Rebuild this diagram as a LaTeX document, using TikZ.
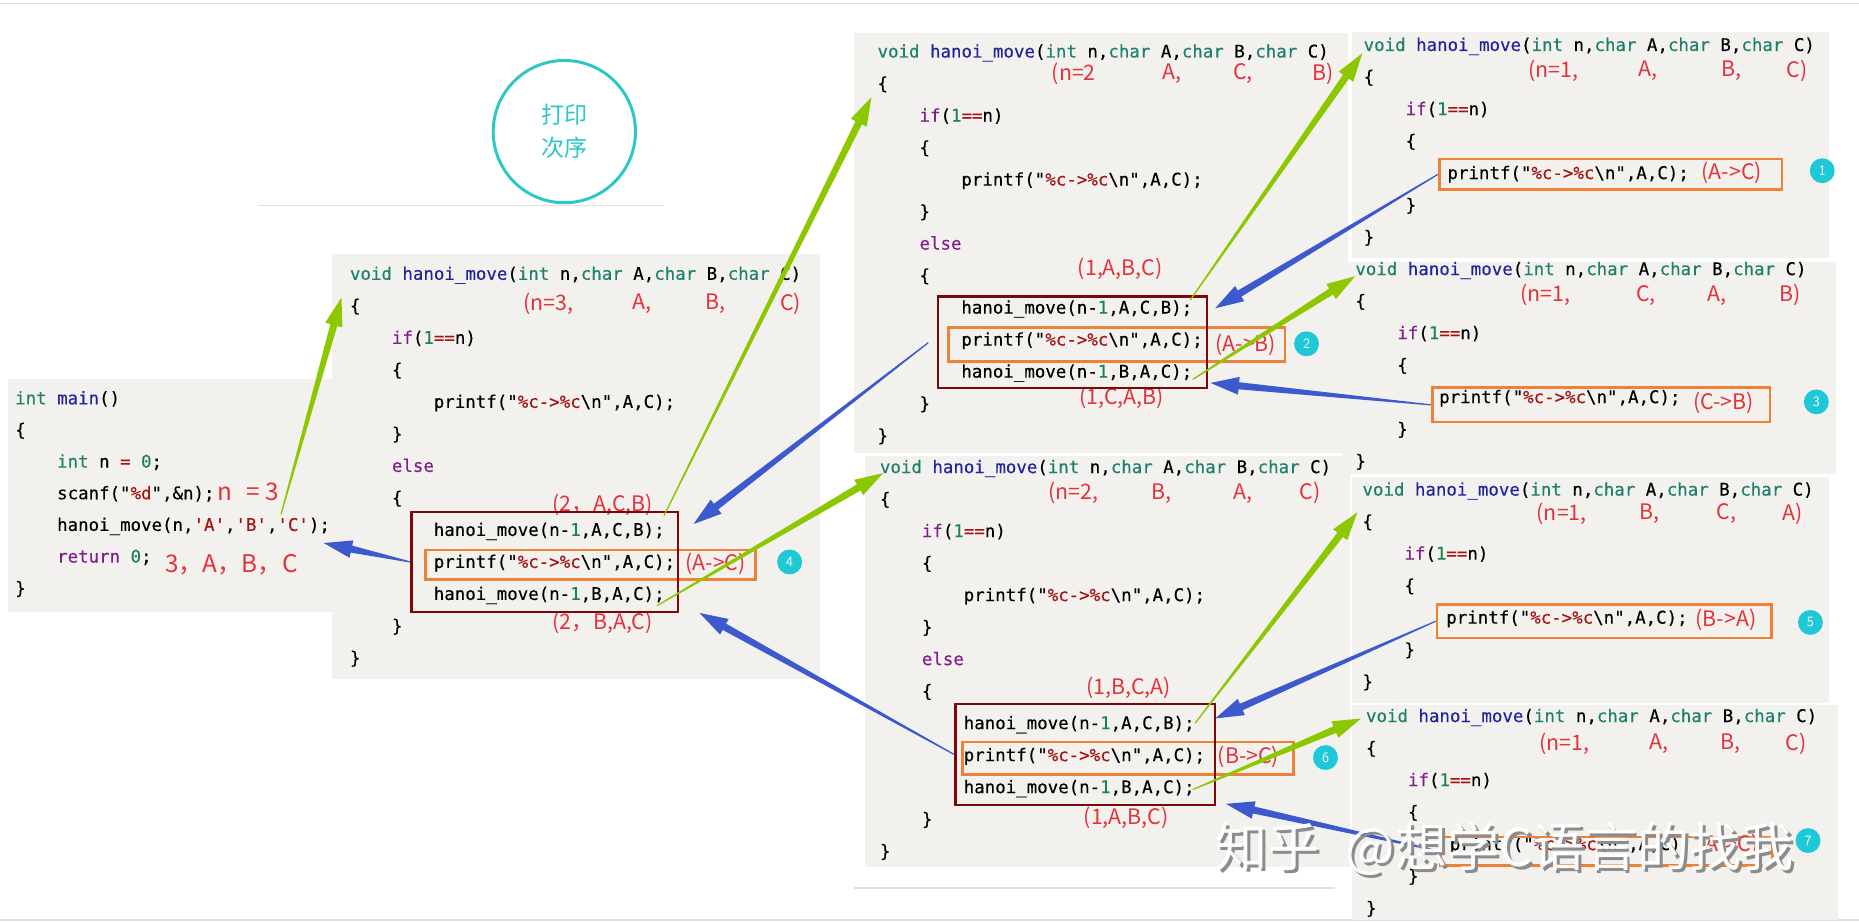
\documentclass[tikz,border=0pt]{standalone}
\usepackage{fontspec}
\setmonofont{DejaVu Sans Mono}[FakeBold=0.3]
\newfontfamily\cjk{Noto Sans CJK SC}
\usetikzlibrary{calc}

\definecolor{codebg}{RGB}{242,241,237}
\definecolor{kwgreen}{RGB}{28,128,108}
\definecolor{fnblue}{RGB}{35,35,160}
\definecolor{ctlpurple}{RGB}{130,30,140}
\definecolor{numgreen}{RGB}{30,130,80}
\definecolor{strred}{RGB}{163,21,21}
\definecolor{notered}{RGB}{228,50,60}
\definecolor{callred}{RGB}{122,8,8}
\definecolor{printorange}{RGB}{237,130,55}
\definecolor{callgreen}{RGB}{140,200,0}
\definecolor{backblue}{RGB}{60,90,205}
\definecolor{ringcyan}{RGB}{44,200,200}
\definecolor{bubblecyan}{RGB}{30,200,215}

\newcommand\codefont{\ttfamily\fontsize{14.7}{17}\selectfont}
\newcommand\notefont{\cjk\fontsize{18}{18}\selectfont}
\newcommand\bignote{\cjk\fontsize{20.5}{20}\selectfont}
\newcommand\wmfont{\cjk\fontsize{44}{44}\selectfont}

% syntax colours
\newcommand\kw[1]{\textcolor{kwgreen}{#1}}
\newcommand\fn[1]{\textcolor{fnblue}{#1}}
\newcommand\ctl[1]{\textcolor{ctlpurple}{#1}}
\newcommand\nm[1]{\textcolor{numgreen}{#1}}
\newcommand\sq[1]{\textcolor{strred}{#1}}

% repeated code lines
\newcommand\hdr{\kw{void} \fn{hanoi\_move}(\kw{int} n,\kw{char} A,\kw{char} B,\kw{char} C)}
\newcommand\iftest{\ctl{if}(\nm{1}\sq{==}n)}
\newcommand\prt{printf("\sq{\%c->\%c}\textbackslash n",A,C);}
\newcommand\recACB{hanoi\_move(n-\nm{1},A,C,B);}
\newcommand\recBAC{hanoi\_move(n-\nm{1},B,A,C);}

% tapered arrow: colour, from, to
\newcommand\flow[3]{%
  \fill[#1] ($(#2)!0.5pt!90:(#3)$)
    -- ($($(#3)!24pt!(#2)$)!3pt!90:(#3)$)
    -- ($($(#3)!24pt!(#2)$)!7.5pt!90:(#3)$)
    -- (#3)
    -- ($($(#3)!24pt!(#2)$)!7.5pt!-90:(#3)$)
    -- ($($(#3)!24pt!(#2)$)!3pt!-90:(#3)$)
    -- ($(#2)!0.5pt!-90:(#3)$) -- cycle;}

\begin{document}
\begin{tikzpicture}[x=1pt,y=-1pt,
  code/.style={anchor=west, inner sep=0pt, font=\codefont, text height=11pt, text depth=3pt},
  note/.style={anchor=west, inner sep=0pt, text=notered, font=\notefont},
  callbox/.style={draw=callred, line width=2pt, inner sep=0pt},
  printbox/.style={draw=printorange, line width=2.2pt, inner sep=0pt},
  bubble/.style={circle, fill=bubblecyan, text=white, inner sep=0pt, minimum size=21pt,
    font=\sffamily\fontsize{12}{12}\selectfont},
  rule/.style={draw=black!12, line width=1pt}]

\fill[white] (0,0) rectangle (1568,778.5);
\useasboundingbox (0,0) rectangle (1568,778.5);

% page rules
\draw[rule] (0,3) -- (1568,3);
\draw[rule] (218,173) -- (560,173);
\draw[rule] (720,749) -- (1126,749);
\draw[rule] (0,776) -- (1568,776);

% code backgrounds
\fill[codebg] (7,320) rectangle (282,516);
\fill[codebg] (280,214) rectangle (692,573);
\fill[codebg] (720,28) rectangle (1137,382);
\fill[codebg] (730,385) rectangle (1139,731);
\fill[codebg] (1140,27) rectangle (1543,218);
\fill[codebg] (1132,221) rectangle (1549,400);
\fill[codebg] (1140,402) rectangle (1543,593);
\fill[codebg] (1140,595) rectangle (1550,776);

\node[circle, draw=ringcyan, line width=2.5pt, minimum size=120pt, align=center,
  text=ringcyan, font=\cjk\fontsize{19.5}{28}\selectfont] (order) at (476,111) {打印\\次序};

% main()
\begin{scope}[shift={(12.6,337)}]
  \node[code] (m-0) at (0,0) {\kw{int} \fn{main}()};
  \node[code] (m-1) at (0,26.7) {\{};
  \node[code] (m-2) at (35.4,53.4) {\kw{int} n \sq{=} \nm{0};};
  \node[code] (m-3) at (35.4,80.1) {scanf("\sq{\%d}",\&n);};
  \node[code] (m-4) at (35.4,106.8) {hanoi\_move(n,\sq{'A'},\sq{'B'},\sq{'C'});};
  \node[code] (m-5) at (35.4,133.5) {\ctl{return} \nm{0};};
  \node[code] (m-6) at (0,160.2) {\}};
\end{scope}
\node[anchor=west, inner sep=0pt, text=notered, font=\bignote] (n-in) at (183,415) {n\hspace{0.6em}= 3};
\node[anchor=west, inner sep=0pt, text=notered, font=\bignote] (n-args) at (139,476) {3，A，B，C};

% frames with n>1
\foreach \fr/\xo/\yo in {n3/295/232, acb/740/44.5, bac/742/395} {
  \begin{scope}[shift={(\xo,\yo)}]
    \node[code] (\fr-0) at (0,0) {\hdr};
    \node[code] (\fr-1) at (0,27) {\{};
    \node[code] (\fr-2) at (35.4,54) {\iftest};
    \node[code] (\fr-3) at (35.4,81) {\{};
    \node[code] (\fr-4) at (70.7,108) {\prt};
    \node[code] (\fr-5) at (35.4,135) {\}};
    \node[code] (\fr-6) at (35.4,162) {\ctl{else}};
    \node[code] (\fr-7) at (35.4,189) {\{};
    \node[code] (\fr-8) at (70.7,216) {\recACB};
    \node[code] (\fr-9) at (70.7,243) {\prt};
    \node[code] (\fr-10) at (70.7,270) {\recBAC};
    \node[code] (\fr-11) at (35.4,297) {\}};
    \node[code] (\fr-12) at (0,324) {\}};
  \end{scope}
}

% frames with n=1
\foreach \fr/\xo/\yo in {p1/1150/39, p3/1143/228, p5/1149/414, p7/1152/605} {
  \begin{scope}[shift={(\xo,\yo)}]
    \node[code] (\fr-0) at (0,0) {\hdr};
    \node[code] (\fr-1) at (0,27) {\{};
    \node[code] (\fr-2) at (35.4,54) {\iftest};
    \node[code] (\fr-3) at (35.4,81) {\{};
    \node[code] (\fr-4) at (70.7,108) {\prt};
    \node[code] (\fr-5) at (35.4,135) {\}};
    \node[code] (\fr-6) at (0,162) {\}};
  \end{scope}
}

% argument values
\node[note] (n3-a0) at (441,256) {(n=3,};
\node[note] (n3-a1) at (533,256) {A,};
\node[note] (n3-a2) at (595,256) {B,};
\node[note] (n3-a3) at (658,256) {C)};
\node[note] (acb-a0) at (887,62) {(n=2};
\node[note] (acb-a1) at (980,62) {A,};
\node[note] (acb-a2) at (1040,62) {C,};
\node[note] (acb-a3) at (1107,62) {B)};
\node[note] (bac-a0) at (884,416) {(n=2,};
\node[note] (bac-a1) at (971,416) {B,};
\node[note] (bac-a2) at (1040,416) {A,};
\node[note] (bac-a3) at (1096,416) {C)};
\node[note] (p1-a0) at (1289,60) {(n=1,};
\node[note] (p1-a1) at (1382,60) {A,};
\node[note] (p1-a2) at (1452,60) {B,};
\node[note] (p1-a3) at (1507,60) {C)};
\node[note] (p3-a0) at (1282,249) {(n=1,};
\node[note] (p3-a1) at (1380,249) {C,};
\node[note] (p3-a2) at (1440,249) {A,};
\node[note] (p3-a3) at (1501,249) {B)};
\node[note] (p5-a0) at (1296,433) {(n=1,};
\node[note] (p5-a1) at (1383,433) {B,};
\node[note] (p5-a2) at (1448,433) {C,};
\node[note] (p5-a3) at (1503,433) {A)};
\node[note] (p7-a0) at (1298,627) {(n=1,};
\node[note] (p7-a1) at (1391,627) {A,};
\node[note] (p7-a2) at (1451,627) {B,};
\node[note] (p7-a3) at (1506,627) {C)};

% recursive calls
\node[note] (n3-c1) at (466,426) {(2，A,C,B)};
\node[note] (n3-c2) at (466,525) {(2，B,A,C)};
\node[note] (acb-c1) at (909,227) {(1,A,B,C)};
\node[note] (acb-c2) at (910,336) {(1,C,A,B)};
\node[note] (bac-c1) at (916,580) {(1,B,C,A)};
\node[note] (bac-c2) at (914,690) {(1,A,B,C)};

% printed moves
\node[printbox, minimum width=278pt, minimum height=25pt] (n3print) at (498,476.5) {};
\node[printbox, minimum width=284pt, minimum height=29pt] (acbprint) at (942,290.5) {};
\node[printbox, minimum width=279pt, minimum height=27pt] (bacprint) at (951.5,639.5) {};
\node[printbox, minimum width=289pt, minimum height=26pt] (p1print) at (1358.5,147) {};
\node[printbox, minimum width=285pt, minimum height=29pt] (p3print) at (1350.5,341.5) {};
\node[printbox, minimum width=282pt, minimum height=28pt] (p5print) at (1353,524) {};
\node[printbox, minimum width=280pt, minimum height=24pt] (p7print) at (1355,718) {};
\node[callbox, minimum width=225pt, minimum height=84pt] (n3call) at (459.5,474) {};
\node[callbox, minimum width=227pt, minimum height=77pt] (acbcall) at (904.5,288.5) {};
\node[callbox, minimum width=219pt, minimum height=85pt] (bacall) at (915.5,636.5) {};

\node[note] (n3-m) at (578,476) {(A->C)};
\node[note] (acb-m) at (1025,291) {(A->B)};
\node[note] (bac-m) at (1027,638) {(B->C)};
\node[note] (p1-m) at (1435,146) {(A->C)};
\node[note] (p3-m) at (1428,340) {(C->B)};
\node[note] (p5-m) at (1430,523) {(B->A)};
\node[note] (p7-m) at (1432,713) {(A->C)};

\node[bubble] (s1) at (1537,144) {1};
\node[bubble] (s2) at (1102,290) {2};
\node[bubble] (s3) at (1532,339) {3};
\node[bubble] (s4) at (666,474) {4};
\node[bubble] (s5) at (1527,525) {5};
\node[bubble] (s6) at (1118,639) {6};
\node[bubble] (s7) at (1525,709) {7};

% arrow ends
\coordinate (main-call) at (237,434);
\coordinate (n3-entry) at (288,251);
\coordinate (n3-out1) at (560,435);
\coordinate (acb-entry) at (735,82);
\coordinate (n3-out2) at (554,511);
\coordinate (bac-entry) at (745,399);
\coordinate (acb-out1) at (1004,253);
\coordinate (p1-entry) at (1149,45);
\coordinate (acb-out2) at (1006,320);
\coordinate (p3-entry) at (1143,233);
\coordinate (bac-out1) at (1008,610);
\coordinate (p5-entry) at (1145,432);
\coordinate (bac-out2) at (1006,666);
\coordinate (p7-entry) at (1148,606);
\coordinate (main-back) at (273,458);
\coordinate (n3-back1) at (585,442);
\coordinate (n3-back2) at (590,517);
\coordinate (acb-back1) at (1025,260);
\coordinate (acb-back2) at (1021,323);
\coordinate (bac-back1) at (1025,606);
\coordinate (bac-back2) at (1034,678);
\coordinate (acb-leave) at (783,289);

% calls
\flow{callgreen}{main-call}{n3-entry}
\flow{callgreen}{n3-out1}{acb-entry}
\flow{callgreen}{n3-out2}{bac-entry}
\flow{callgreen}{acb-out1}{p1-entry}
\flow{callgreen}{acb-out2}{p3-entry}
\flow{callgreen}{bac-out1}{p5-entry}
\flow{callgreen}{bac-out2}{p7-entry}
% returns
\flow{backblue}{n3call.west}{main-back}
\flow{backblue}{acb-leave}{n3-back1}
\flow{backblue}{bacall.west}{n3-back2}
\flow{backblue}{p1print.west}{acb-back1}
\flow{backblue}{p3print.west}{acb-back2}
\flow{backblue}{p5print.west}{bac-back1}
\flow{backblue}{p7print.west}{bac-back2}

% watermark
\node[anchor=west, inner sep=0pt, text=black!45, font=\wmfont] (wm-shade) at (1027.5,718.5) {知乎\hspace{0.5em}@想学C语言的找我};
\node[anchor=west, inner sep=0pt, text=white, opacity=0.95, font=\wmfont] (wm) at (1025,716) {知乎\hspace{0.5em}@想学C语言的找我};
\end{tikzpicture}
\end{document}
